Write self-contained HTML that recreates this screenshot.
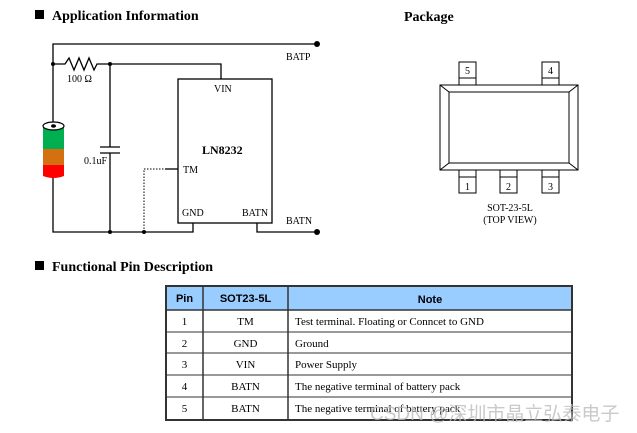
<!DOCTYPE html>
<html><head><meta charset="utf-8"><style>
html,body{margin:0;padding:0;background:#fff;}
body{width:637px;height:433px;position:relative;overflow:hidden;}
svg{position:absolute;left:0;top:0;}
</style></head><body>
<svg width="637" height="433" viewBox="0 0 637 433" font-family="Liberation Serif, serif">
<rect x="35" y="10" width="9" height="9" fill="#000"/>
<text x="52" y="20" font-size="14" font-weight="bold">Application Information</text>
<text x="404" y="21" font-size="14" font-weight="bold">Package</text>
<rect x="35" y="261" width="9" height="9" fill="#000"/>
<text x="52" y="271" font-size="14" font-weight="bold">Functional Pin Description</text>

<g stroke="#000" stroke-width="1.3" fill="none">
<polyline points="53,178 53,44 317,44"/>
<polyline points="53,64 65,64 69,58 74,70 79,58 84,70 89,58 94,70 97,64 221,64 221,79"/>
<line x1="110" y1="64" x2="110" y2="147"/>
<line x1="110" y1="153" x2="110" y2="232"/>
<line x1="100" y1="147" x2="120" y2="147"/>
<line x1="100" y1="153" x2="120" y2="153"/>
<rect x="178" y="79" width="94" height="144"/>
<polyline points="53,178 53,232 193,232 193,223"/>
<polyline points="257,223 257,232 317,232"/>
<polyline points="144,232 144,169 165,169" stroke-dasharray="1.5,1.5" stroke-width="1"/>
<line x1="165" y1="169" x2="178" y2="169"/>
</g>
<g fill="#000">
<circle cx="317" cy="44" r="3"/><circle cx="317" cy="232" r="3"/>
<circle cx="53" cy="64" r="2"/><circle cx="110" cy="64" r="2"/>
<circle cx="110" cy="232" r="2"/><circle cx="144" cy="232" r="2"/>
</g>
<rect x="43" y="126" width="21" height="23" fill="#00b050"/>
<rect x="43" y="149" width="21" height="16" fill="#d4700f"/>
<path d="M43 165 H64 V176 Q53.5 180 43 176 Z" fill="#ff0000"/>
<ellipse cx="53.5" cy="126" rx="10.5" ry="4" fill="#fff" stroke="#000" stroke-width="1.2"/>
<ellipse cx="53.5" cy="126" rx="2.5" ry="1.8" fill="#000"/>
<g font-size="10">
<text x="286" y="60">BATP</text>
<text x="286" y="224">BATN</text>
<text x="67" y="82">100 Ω</text>
<text x="84" y="164">0.1uF</text>
<text x="214" y="92">VIN</text>
<text x="183" y="173">TM</text>
<text x="182" y="216">GND</text>
<text x="242" y="216">BATN</text>
</g>
<text x="202" y="154" font-size="12" font-weight="bold">LN8232</text>

<g stroke="#000" stroke-width="1" fill="#fff">
<rect x="459" y="62" width="17" height="23"/><line x1="459" y1="78" x2="476" y2="78"/>
<rect x="542" y="62" width="17" height="23"/><line x1="542" y1="78" x2="559" y2="78"/>
<rect x="459" y="170" width="17" height="23"/><line x1="459" y1="177" x2="476" y2="177"/>
<rect x="500" y="170" width="17" height="23"/><line x1="500" y1="177" x2="517" y2="177"/>
<rect x="542" y="170" width="17" height="23"/><line x1="542" y1="177" x2="559" y2="177"/>
<rect x="440" y="85" width="138" height="85"/>
<rect x="449" y="92" width="120" height="71"/>
<line x1="440" y1="85" x2="449" y2="92"/><line x1="578" y1="85" x2="569" y2="92"/>
<line x1="440" y1="170" x2="449" y2="163"/><line x1="578" y1="170" x2="569" y2="163"/>
</g>
<g font-size="10" text-anchor="middle">
<text x="467.5" y="74">5</text><text x="550.5" y="74">4</text>
<text x="467.5" y="190">1</text><text x="508.5" y="190">2</text><text x="550.5" y="190">3</text>
<text x="510" y="211">SOT-23-5L</text>
<text x="510" y="223">(TOP VIEW)</text>
</g>

<rect x="166" y="286" width="406" height="24" fill="#99ccff"/>
<g stroke="#333" fill="none">
<rect x="166" y="286" width="406" height="134" stroke-width="2"/>
<line x1="166" y1="310" x2="572" y2="310" stroke-width="1.5"/>
<line x1="166" y1="332" x2="572" y2="332"/>
<line x1="166" y1="353" x2="572" y2="353"/>
<line x1="166" y1="375" x2="572" y2="375"/>
<line x1="166" y1="397" x2="572" y2="397"/>
<line x1="203" y1="286" x2="203" y2="420" stroke-width="1.5"/>
<line x1="288" y1="286" x2="288" y2="420" stroke-width="1.5"/>
</g>
<g font-family="Liberation Sans, sans-serif" font-size="11" font-weight="bold" text-anchor="middle">
<text x="184.5" y="302">Pin</text><text x="245.5" y="302">SOT23-5L</text><text x="430" y="303">Note</text>
</g>
<g font-size="11" text-anchor="middle">
<text x="184.5" y="325">1</text><text x="245.5" y="325">TM</text>
<text x="184.5" y="347">2</text><text x="245.5" y="347">GND</text>
<text x="184.5" y="368">3</text><text x="245.5" y="368">VIN</text>
<text x="184.5" y="390">4</text><text x="245.5" y="390">BATN</text>
<text x="184.5" y="412">5</text><text x="245.5" y="412">BATN</text>
</g>
<g font-size="11">
<text x="295" y="325">Test terminal. Floating or Conncet to GND</text>
<text x="295" y="347">Ground</text>
<text x="295" y="368">Power Supply</text>
<text x="295" y="390">The negative terminal of battery pack</text>
<text x="295" y="412">The negative terminal of battery pack</text>
</g>
<text x="370" y="420" font-family="Liberation Sans, Noto Sans CJK SC, sans-serif" font-size="19" fill="#bbb" fill-opacity="0.8">CSDN @深圳市晶立弘泰电子</text>
</svg>
</body></html>
